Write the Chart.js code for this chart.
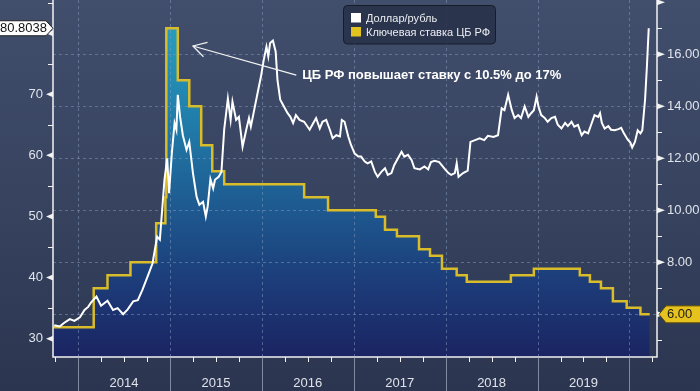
<!DOCTYPE html>
<html>
<head>
<meta charset="utf-8">
<script src="https://cdn.jsdelivr.net/npm/chart.js@4.4.1/dist/chart.umd.min.js"></script>
<style>
html,body{margin:0;padding:0;width:700px;height:391px;overflow:hidden;}
body{background:linear-gradient(180deg,#414e6c 0%,#36425e 55%,#2b3550 100%);}
#wrap{position:relative;width:700px;height:391px;}
canvas{display:block;}
</style>
</head>
<body>
<div id="wrap"><canvas id="c" width="700" height="391"></canvas></div>
<script>
// ---- data (decimal years) ----
const usdDates = [2013.74,2013.80,2013.85,2013.91,2013.96,2014.02,2014.07,2014.11,2014.14,2014.20,2014.25,2014.32,2014.38,2014.43,2014.49,2014.54,2014.60,2014.65,2014.70,2014.76,2014.81,2014.86,2014.89,2014.94,2014.97,2014.99,2015.02,2015.05,2015.07,2015.085,2015.11,2015.14,2015.18,2015.21,2015.25,2015.29,2015.32,2015.36,2015.39,2015.41,2015.44,2015.47,2015.49,2015.53,2015.56,2015.59,2015.63,2015.66,2015.68,2015.72,2015.75,2015.79,2015.83,2015.86,2015.88,2015.92,2015.96,2015.99,2016.02,2016.05,2016.07,2016.09,2016.12,2016.15,2016.17,2016.20,2016.24,2016.28,2016.31,2016.34,2016.37,2016.41,2016.46,2016.52,2016.56,2016.59,2016.63,2016.66,2016.70,2016.74,2016.77,2016.81,2016.85,2016.87,2016.90,2016.94,2016.97,2017.01,2017.05,2017.08,2017.12,2017.15,2017.19,2017.23,2017.26,2017.30,2017.34,2017.37,2017.41,2017.44,2017.48,2017.52,2017.55,2017.59,2017.63,2017.66,2017.72,2017.77,2017.81,2017.84,2017.88,2017.93,2017.99,2018.03,2018.06,2018.10,2018.12,2018.14,2018.19,2018.24,2018.27,2018.32,2018.37,2018.42,2018.46,2018.52,2018.57,2018.61,2018.64,2018.68,2018.72,2018.75,2018.79,2018.82,2018.86,2018.90,2018.93,2018.96,2018.99,2019.01,2019.04,2019.08,2019.11,2019.15,2019.19,2019.22,2019.26,2019.30,2019.33,2019.37,2019.40,2019.44,2019.48,2019.51,2019.55,2019.59,2019.62,2019.66,2019.68,2019.70,2019.73,2019.77,2019.80,2019.84,2019.88,2019.91,2019.94,2019.98,2020.01,2020.03,2020.06,2020.09,2020.12,2020.14,2020.17,2020.19,2020.21];
const usdValues = [32.2,32.0,32.6,33.2,32.9,33.5,34.7,35.2,35.9,36.9,35.4,36.2,34.7,35.0,34.0,34.8,36.1,36.3,38.0,40.3,42.3,46.7,46.2,56.0,59.5,53.8,60.3,65.3,64.2,69.9,66.3,63.3,60.9,62.2,57.1,53.2,51.9,52.4,50.0,51.6,56.1,54.6,56.0,56.5,57.3,64.2,69.3,65.8,68.8,65.8,66.3,61.4,64.2,66.1,64.7,67.7,70.7,72.9,75.6,77.8,76.2,78.4,78.8,77.0,72.3,69.1,68.0,66.9,66.3,65.3,66.6,65.8,65.5,64.2,65.3,66.1,64.4,65.5,65.8,64.2,62.8,63.3,63.1,65.8,65.5,63.1,61.7,60.3,59.8,59.8,59.0,58.7,59.0,57.3,56.5,57.3,57.9,56.8,57.1,58.4,59.5,60.6,59.8,60.1,59.2,57.9,57.7,58.2,57.7,58.9,59.1,58.9,57.8,57.1,56.8,57.1,58.7,56.5,57.1,57.5,62.2,62.5,62.8,62.5,63.2,63.0,63.3,67.7,67.4,69.9,67.4,66.1,66.6,66.1,68.0,66.3,66.9,67.4,69.6,68.0,66.6,66.1,65.5,66.1,66.3,65.0,64.4,65.3,64.8,65.5,64.7,65.0,63.3,63.9,63.6,65.3,66.6,66.3,66.9,65.3,64.4,64.8,64.2,64.1,64.3,64.5,63.6,62.6,62.1,61.3,62.2,64.1,63.6,64.1,69.1,74.5,80.8038];
const rateDates = [2013.73,2014.17,2014.32,2014.57,2014.85,2014.95,2014.96,2015.085,2015.21,2015.34,2015.46,2015.59,2016.46,2016.72,2017.24,2017.34,2017.47,2017.71,2017.83,2017.96,2018.12,2018.23,2018.71,2018.96,2019.46,2019.57,2019.69,2019.82,2019.97,2020.12,2020.22];
const rateValues = [5.5,7,7.5,8,9.5,10.5,17,15,14,12.5,11.5,11,10.5,10,9.75,9.25,9,8.5,8.25,7.75,7.5,7.25,7.5,7.75,7.5,7.25,7,6.5,6.25,6,6];
const yearLabels = ['2014','2015','2016','2017','2018','2019'];
const leftTickLabels = [30,40,50,60,70];
const rightTickLabels = [8,10,12,14,16];
const seriesNames = ['Доллар/рубль','Ключевая ставка ЦБ РФ'];
const annotationText = 'ЦБ РФ повышает ставку с 10.5% до 17%';

const usdPts = usdDates.map((d,i)=>({x:d,y:usdValues[i]}));
const ratePts = rateDates.map((d,i)=>({x:d,y:rateValues[i]}));

const FONT = "'Liberation Sans', Arial, sans-serif";
const LABEL_COLOR = '#dfe3ea';
const YELLOW = '#d9bc2a';

const decor = {
  id:'decor',
  afterDatasetDraw(chart,args){
    if(args.index!==0) return;
    const {ctx,chartArea:a,scales} = chart;
    ctx.save();
    ctx.strokeStyle='rgba(130,150,185,0.55)';
    ctx.lineWidth=1;
    ctx.setLineDash([3,3]);
    for(let v=6; v<=16; v+=2){
      const y=Math.round(scales.yR.getPixelForValue(v))+0.5;
      ctx.beginPath(); ctx.moveTo(a.left,y); ctx.lineTo(a.right,y); ctx.stroke();
    }
    for(let yr=2014; yr<=2020; yr++){
      const x=Math.round(scales.x.getPixelForValue(yr))+0.5;
      ctx.beginPath(); ctx.moveTo(x,a.top); ctx.lineTo(x,a.bottom); ctx.stroke();
    }
    ctx.restore();
  },
  afterDraw(chart){
    const {ctx,chartArea:a,scales} = chart;
    const xs=scales.x, yL=scales.yL, yR=scales.yR;
    ctx.save();
    // spines
    ctx.strokeStyle='#f2f2f2'; ctx.lineWidth=1.5;
    ctx.beginPath();
    ctx.moveTo(a.left,0); ctx.lineTo(a.left,a.bottom);
    ctx.lineTo(a.right,a.bottom); ctx.lineTo(a.right,0);
    ctx.stroke();
    // left ticks
    ctx.fillStyle='#f2f2f2'; ctx.lineWidth=1;
    for(let v=30; v<=80; v+=10){
      const y=yL.getPixelForValue(v);
      ctx.beginPath(); ctx.moveTo(a.left-7,y); ctx.lineTo(a.left,y-3); ctx.lineTo(a.left,y+3); ctx.closePath(); ctx.fill();
    }
    for(let v=35; v<=85; v+=10){
      const y=Math.round(yL.getPixelForValue(v))+0.5;
      ctx.beginPath(); ctx.moveTo(a.left-5,y); ctx.lineTo(a.left,y); ctx.stroke();
    }
    // right ticks
    for(let v=6; v<=18; v+=2){
      const y=yR.getPixelForValue(v);
      ctx.beginPath(); ctx.moveTo(a.right+8,y); ctx.lineTo(a.right,y-3); ctx.lineTo(a.right,y+3); ctx.closePath(); ctx.fill();
    }
    for(let v=5; v<=17; v+=2){
      const y=Math.round(yR.getPixelForValue(v))+0.5;
      ctx.beginPath(); ctx.moveTo(a.right,y); ctx.lineTo(a.right+5,y); ctx.stroke();
    }
    // bottom ticks
    for(let q=2013.75; q<=2020.26; q+=0.25){
      const x=Math.round(xs.getPixelForValue(q))+0.5;
      if(Math.abs(q-Math.round(q))<0.01){
        ctx.strokeStyle='rgba(150,160,180,0.8)';
        ctx.beginPath(); ctx.moveTo(x,a.bottom); ctx.lineTo(x,391); ctx.stroke();
      } else {
        ctx.strokeStyle='#f2f2f2';
        ctx.beginPath(); ctx.moveTo(x,a.bottom); ctx.lineTo(x,a.bottom+5); ctx.stroke();
      }
    }
    // annotation arrow
    const tipX=xs.getPixelForValue(2015.25), tipY=yR.getPixelForValue(16.32);
    const txtX=xs.getPixelForValue(2016.44), txtY=yR.getPixelForValue(15.2);
    const endX=txtX-6, endY=txtY;
    ctx.strokeStyle='#f4f4f4'; ctx.lineWidth=1.2;
    ctx.beginPath(); ctx.moveTo(endX,endY); ctx.lineTo(tipX,tipY); ctx.stroke();
    const ang=Math.atan2(endY-tipY,endX-tipX);
    const L=15, w=0.52;
    ctx.beginPath();
    ctx.moveTo(tipX+L*Math.cos(ang-w),tipY+L*Math.sin(ang-w));
    ctx.lineTo(tipX,tipY);
    ctx.lineTo(tipX+L*Math.cos(ang+w),tipY+L*Math.sin(ang+w));
    ctx.stroke();
    ctx.fillStyle='#ffffff';
    ctx.font="bold 13px "+FONT;
    ctx.textAlign='left'; ctx.textBaseline='middle';
    ctx.fillText(annotationText,txtX,txtY);
    // legend
    ctx.beginPath();
    ctx.roundRect(343.5,5.5,152,38.5,4);
    ctx.fillStyle='rgba(40,50,74,0.9)'; ctx.fill();
    ctx.strokeStyle='#161c2a'; ctx.lineWidth=1; ctx.stroke();
    ctx.fillStyle='#ffffff'; ctx.fillRect(351,13,10,9.5);
    ctx.fillStyle='#e2c21e'; ctx.fillRect(351,27,10,9.5);
    ctx.fillStyle='#eceef2'; ctx.font="11px "+FONT;
    ctx.fillText(seriesNames[0],366,18.5);
    ctx.fillText(seriesNames[1],366,32.5);
    // last value tags
    const lastUsd=usdValues[usdValues.length-1];
    let y=yL.getPixelForValue(lastUsd);
    ctx.beginPath();
    ctx.moveTo(-2,y-7.5); ctx.lineTo(46,y-7.5); ctx.lineTo(53,y); ctx.lineTo(46,y+7.5); ctx.lineTo(-2,y+7.5); ctx.closePath();
    ctx.fillStyle='#ffffff'; ctx.fill(); ctx.strokeStyle='#222'; ctx.stroke();
    ctx.fillStyle='#111'; ctx.font="13px "+FONT; ctx.textAlign='left';
    ctx.fillText(lastUsd.toFixed(4),0,y+0.5);
    const lastRate=rateValues[rateValues.length-1];
    y=yR.getPixelForValue(lastRate);
    const tx=a.right+2;
    ctx.beginPath();
    ctx.moveTo(tx,y); ctx.lineTo(tx+7,y-8.5); ctx.lineTo(702,y-8.5); ctx.lineTo(702,y+8.5); ctx.lineTo(tx+7,y+8.5); ctx.closePath();
    ctx.fillStyle='#e6c21e'; ctx.fill(); ctx.strokeStyle='#5a4a0c'; ctx.stroke();
    ctx.fillStyle='#1a1a1a';
    ctx.fillText(lastRate.toFixed(2),tx+8,y+0.5);
    ctx.restore();
  }
};

function fitV(w){ return (s)=>{ s.width=w; s.paddingTop=0; s.paddingBottom=0; }; }

const ctx = document.getElementById('c').getContext('2d');
new Chart(ctx,{
  type:'line',
  data:{datasets:[
    {label:'fill',data:ratePts,yAxisID:'yR',stepped:true,borderWidth:0,pointRadius:0,fill:'start',order:3,
     backgroundColor:(c)=>{const ca=c.chart.chartArea; if(!ca) return 'rgba(0,0,0,0)';
       const g=c.chart.ctx.createLinearGradient(0,ca.top,0,ca.bottom);
       g.addColorStop(0,'#2aa6c4'); g.addColorStop(0.3,'#2182ad'); g.addColorStop(0.55,'#1e5e93');
       g.addColorStop(0.8,'#1c3b78'); g.addColorStop(1,'#1b2462'); return g;}},
    {label:seriesNames[1],data:ratePts,yAxisID:'yR',stepped:true,borderColor:YELLOW,borderWidth:2.5,pointRadius:0,fill:false,order:2},
    {label:seriesNames[0],data:usdPts,yAxisID:'yL',borderColor:'#ffffff',borderWidth:2,pointRadius:0,tension:0,fill:false,order:1}
  ]},
  options:{
    responsive:false, animation:false, devicePixelRatio:1,
    layout:{padding:0,autoPadding:false},
    plugins:{legend:{display:false},tooltip:{enabled:false}},
    scales:{
      x:{type:'linear',min:2013.727,max:2020.30,
         grid:{display:false,drawTicks:false},border:{display:false},
         afterBuildTicks:(s)=>{s.ticks=yearLabels.map(l=>({value:Number(l)+0.5}));},
         afterFit:(s)=>{s.height=34; s.paddingLeft=0; s.paddingRight=0;},
         ticks:{autoSkip:false,maxRotation:0,padding:19,color:LABEL_COLOR,font:{family:FONT,size:13},
           callback:(v,i)=>yearLabels[i]}},
      yL:{type:'linear',position:'left',min:27.0,max:85.43,
         grid:{display:false,drawTicks:false},border:{display:false},
         afterBuildTicks:(s)=>{s.ticks=leftTickLabels.map(v=>({value:v}));},
         afterFit:fitV(53),
         ticks:{padding:10,color:LABEL_COLOR,font:{family:FONT,size:13},callback:(v)=>String(v)}},
      yR:{type:'linear',position:'right',min:4.36,max:18.09,
         grid:{display:false,drawTicks:false},border:{display:false},
         afterBuildTicks:(s)=>{s.ticks=rightTickLabels.map(v=>({value:v}));},
         afterFit:fitV(43),
         ticks:{padding:10,color:LABEL_COLOR,font:{family:FONT,size:13},callback:(v)=>Number(v).toFixed(2)}}
    }
  },
  plugins:[decor]
});
</script>
</body>
</html>
